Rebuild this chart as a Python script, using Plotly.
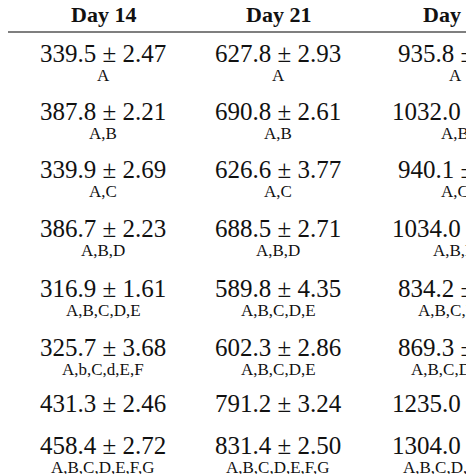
import plotly.graph_objects as go

headers = ["Day 14", "Day 21", "Day 28"]
day14 = ["339.5 ± 2.47", "387.8 ± 2.21", "339.9 ± 2.69", "386.7 ± 2.23", "316.9 ± 1.61", "325.7 ± 3.68", "431.3 ± 2.46", "458.4 ± 2.72"]
day21 = ["627.8 ± 2.93", "690.8 ± 2.61", "626.6 ± 3.77", "688.5 ± 2.71", "589.8 ± 4.35", "602.3 ± 2.86", "791.2 ± 3.24", "831.4 ± 2.50"]
day28 = ["935.8 ± 3.1", "1032.0 ± 3.4", "940.1 ± 3.2", "1034.0 ± 3.5", "834.2 ± 3.9", "869.3 ± 3.3", "1235.0 ± 3.6", "1304.0 ± 3.0"]
let14 = ["A", "A,B", "A,C", "A,B,D", "A,B,C,D,E", "A,b,C,d,E,F", "", "A,B,C,D,E,F,G"]
let21 = ["A", "A,B", "A,C", "A,B,D", "A,B,C,D,E", "A,B,C,D,E", "", "A,B,C,D,E,F,G"]
let28 = ["A", "A,B", "A,C", "A,B,D", "A,B,C,D,E", "A,B,C,D,E,F", "", "A,B,C,D,E,F,G"]

off = 8  # page body margin
col_x = [103 - off, 278 - off, 455 - off]
row_y = [53 - off, 111 - off, 169 - off, 228 - off, 288 - off, 347 - off, 403 - off, 445 - off]

fig = go.Figure()
ann = []
fam = "Liberation Serif, DejaVu Serif, serif"
font_v = dict(family=fam, size=25, color="#111")
font_l = dict(family=fam, size=17, color="#111")
for x, h in zip(col_x, headers):
    ann.append(dict(x=x, y=14 - off, text="<b>%s</b>" % h, showarrow=False, xanchor="center", yanchor="middle",
                    font=dict(family=fam, size=22, color="#111")))
for x, vals, lets in zip(col_x, [day14, day21, day28], [let14, let21, let28]):
    for y, v, l in zip(row_y, vals, lets):
        ann.append(dict(x=x, y=y, text=v, showarrow=False, xanchor="center", yanchor="middle", font=font_v))
        if l:
            ann.append(dict(x=x, y=y + 22, text=l, showarrow=False, xanchor="center", yanchor="middle", font=font_l))

fig.add_shape(type="line", x0=-off, x1=474, y0=32 - off, y1=32 - off, line=dict(color="#555", width=1.5))
fig.update_layout(width=474, height=474, margin=dict(l=0, r=0, t=0, b=0),
                  paper_bgcolor="white", plot_bgcolor="white", annotations=ann,
                  xaxis=dict(range=[0, 474], visible=False, fixedrange=True),
                  yaxis=dict(range=[474, 0], visible=False, fixedrange=True),
                  showlegend=False)
fig.write_html("out.html")
